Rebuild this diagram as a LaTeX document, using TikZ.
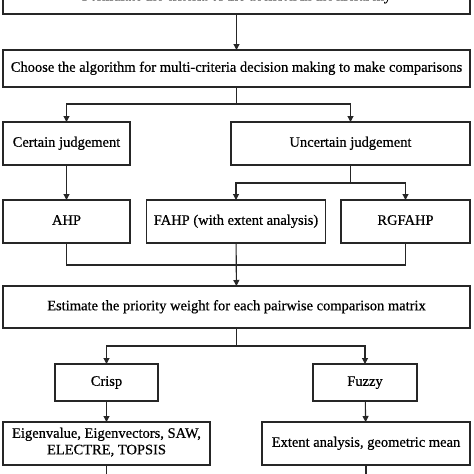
\documentclass[tikz,border=0pt]{standalone}
\usepackage{fontspec}
\setmainfont{Liberation Serif}
\newfontfamily\boxfont{Liberation Serif}[FakeBold=0.5]
\usetikzlibrary{arrows.meta}

\begin{document}
\begin{tikzpicture}[x=1pt,y=-1pt]
  \tikzset{BoxStyle/.style = {
    shape         = rectangle,
    draw          = black!85,
    fill          = white,
    line width    = 1.1pt,
    text          = black,
    align         = center,
    inner sep     = 1pt,
    outer sep     = 0pt,
    font          = \boxfont\fontsize{14.5}{16.5}\selectfont,
    execute at begin node = \strut
    }
  }
  \tikzset{EdgeStyle/.style = {
    draw          = black!85,
    line width    = 1.1pt
    }
  }
  \tikzset{ArrowStyle/.style = {
    EdgeStyle,
    -{Triangle[length=6pt,width=6pt]}
    }
  }
  \useasboundingbox (0,0) rectangle (474,474);

  \node[BoxStyle, minimum width=467pt, minimum height=34pt](Top) at (236.5, -3) {Formulate the criteria of the decision in the hierarchy};
  \node[BoxStyle, minimum width=467pt, minimum height=37pt](Choose) at (236.5, 68.5) {Choose the algorithm for multi-criteria decision making to make comparisons};
  \node[BoxStyle, minimum width=127pt, minimum height=43pt](Certain) at (66.5, 143.5) {Certain judgement};
  \node[BoxStyle, minimum width=239pt, minimum height=43pt](Uncertain) at (350.5, 143.5) {Uncertain judgement};
  \node[BoxStyle, minimum width=127pt, minimum height=43pt](AHP) at (66.5, 221.5) {AHP};
  \node[BoxStyle, minimum width=179pt, minimum height=43pt](FAHP) at (236, 221.5) {FAHP (with extent analysis)};
  \node[BoxStyle, minimum width=129pt, minimum height=43pt](RGFAHP) at (405.5, 221.5) {RGFAHP};
  \node[BoxStyle, minimum width=467pt, minimum height=42pt](Estimate) at (236.5, 307) {Estimate the priority weight for each pairwise comparison matrix};
  \node[BoxStyle, minimum width=103pt, minimum height=37pt](Crisp) at (106.5, 382.5) {Crisp};
  \node[BoxStyle, minimum width=104pt, minimum height=37pt](Fuzzy) at (365, 382.5) {Fuzzy};
  \node[BoxStyle, minimum width=207pt, minimum height=43pt](Eigen) at (106.5, 443.5) {Eigenvalue, Eigenvectors, SAW,\\ELECTRE, TOPSIS};
  \node[BoxStyle, minimum width=208pt, minimum height=43pt](Extent) at (366, 443.5) {Extent analysis, geometric mean};

  % junctions
  \coordinate(J1) at (236.5, 104);
  \coordinate(J2) at (350.5, 183);
  \coordinate(J3) at (236, 265);
  \coordinate(J4) at (236.5, 346);
  \coordinate(E1) at (106.5, 480);
  \coordinate(E2) at (366, 480);

  \draw[ArrowStyle](Top) to (Choose);
  \draw[EdgeStyle](Choose) to (J1);
  \draw[ArrowStyle](J1) -| (Certain);
  \draw[ArrowStyle](J1) -| (Uncertain);
  \draw[ArrowStyle](Certain) to (AHP);
  \draw[EdgeStyle](Uncertain) to (J2);
  \draw[ArrowStyle](J2) -| (FAHP);
  \draw[ArrowStyle](J2) -| (RGFAHP);
  \draw[EdgeStyle](AHP) |- (J3) -| (RGFAHP);
  \draw[ArrowStyle](FAHP) to (Estimate);
  \draw[EdgeStyle](Estimate) to (J4);
  \draw[ArrowStyle](J4) -| (Crisp);
  \draw[ArrowStyle](J4) -| (Fuzzy);
  \draw[ArrowStyle](Crisp) to (Eigen);
  \draw[ArrowStyle](Fuzzy) to (Extent);
  \draw[EdgeStyle](Eigen) to (E1);
  \draw[EdgeStyle](Extent) to (E2);
\end{tikzpicture}
\end{document}
